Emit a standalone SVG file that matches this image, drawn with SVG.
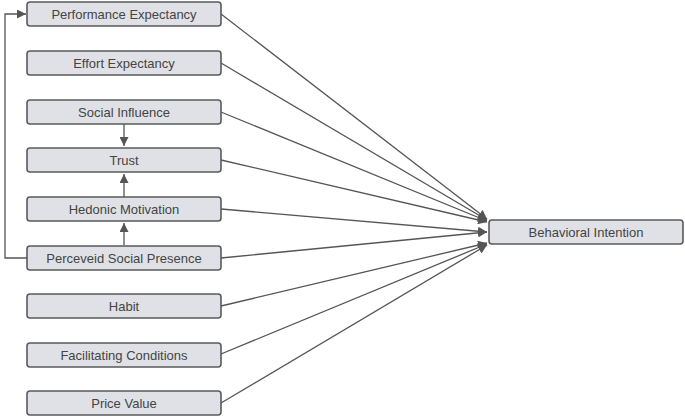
<svg xmlns="http://www.w3.org/2000/svg" width="685" height="417" viewBox="0 0 685 417">
<style>
.b{fill:#dfe1e6;stroke:#5a5a5a;stroke-width:1.6}
.t{font-family:"Liberation Sans",Arial,sans-serif;font-size:13px;fill:#444;text-anchor:middle}
.c{fill:none;stroke:#555;stroke-width:1.3}
</style>
<defs><marker id="a" viewBox="0 0 10 10" refX="10" refY="5" markerWidth="9" markerHeight="9" markerUnits="userSpaceOnUse" orient="auto"><path d="M0,0L10,5L0,10z" fill="#555"/></marker></defs>
<rect width="685" height="417" fill="#fff"/>
<g id="connectors" class="c" marker-end="url(#a)">
<path d="M221,14L487,219"/>
<path d="M221,63L487,220"/>
<path d="M221,112L487,221"/>
<path d="M221,160L487,222"/>
<path d="M221,209L487,232"/>
<path d="M221,258L487,232"/>
<path d="M221,306L487,243"/>
<path d="M221,354L487,244"/>
<path d="M221,403L487,245"/>
<path d="M124,124L124,146"/>
<path d="M124,197L124,174"/>
<path d="M124,245L124,223"/>
<path d="M27,258L5,258L5,14L26,14"/>
</g>
<g id="pe"><rect class="b" x="27" y="2" width="194" height="24" rx="3"/><text class="t" x="124" y="19">Performance Expectancy</text></g>
<g id="ee"><rect class="b" x="27" y="51" width="194" height="24" rx="3"/><text class="t" x="124" y="68">Effort Expectancy</text></g>
<g id="si"><rect class="b" x="27" y="100" width="194" height="24" rx="3"/><text class="t" x="124" y="117">Social Influence</text></g>
<g id="tr"><rect class="b" x="27" y="148" width="194" height="24" rx="3"/><text class="t" x="124" y="165">Trust</text></g>
<g id="hm"><rect class="b" x="27" y="197" width="194" height="24" rx="3"/><text class="t" x="124" y="214">Hedonic Motivation</text></g>
<g id="psp"><rect class="b" x="27" y="246" width="194" height="24" rx="3"/><text class="t" x="124" y="263">Perceveid Social Presence</text></g>
<g id="hab"><rect class="b" x="27" y="294" width="194" height="24" rx="3"/><text class="t" x="124" y="311">Habit</text></g>
<g id="fc"><rect class="b" x="27" y="343" width="194" height="24" rx="3"/><text class="t" x="124" y="360">Facilitating Conditions</text></g>
<g id="pv"><rect class="b" x="27" y="391" width="194" height="24" rx="3"/><text class="t" x="124" y="408">Price Value</text></g>
<g id="bi"><rect class="b" x="489" y="220" width="194" height="24" rx="3"/><text class="t" x="586" y="237">Behavioral Intention</text></g>
</svg>
